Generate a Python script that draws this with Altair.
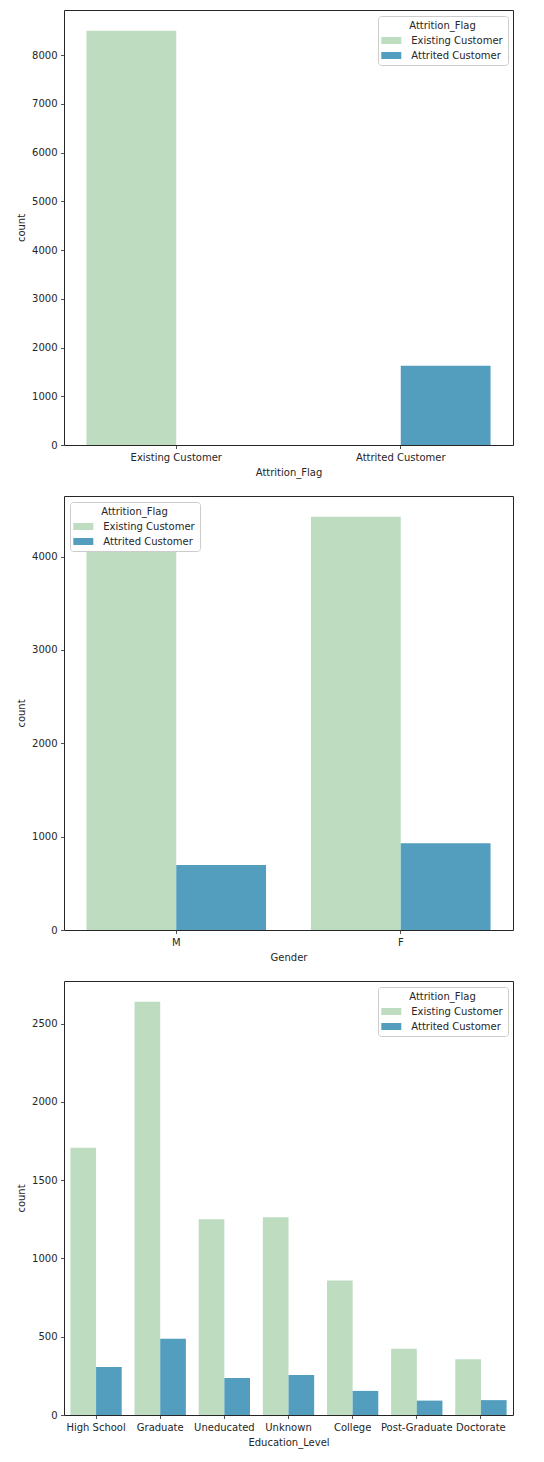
import altair as alt
import pandas as pd

flag_cats = ["Existing Customer", "Attrited Customer"]
flag_counts = [8500, 1627]

gender_cats = ["M", "F"]
gender_existing = [4072, 4428]
gender_attrited = [697, 930]

edu_cats = ["High School", "Graduate", "Uneducated", "Unknown", "College", "Post-Graduate", "Doctorate"]
edu_existing = [1707, 2641, 1250, 1263, 859, 424, 356]
edu_attrited = [306, 487, 237, 256, 154, 92, 95]

colors = ["#bddcc0", "#539ebe"]
FONT = "DejaVu Sans"
TXT = "#262626"

df1 = pd.DataFrame({"x": flag_cats, "Attrition_Flag": flag_cats, "count": flag_counts})

rows = []
for c, e, a in zip(gender_cats, gender_existing, gender_attrited):
    rows.append({"x": c, "Attrition_Flag": flag_cats[0], "count": e})
    rows.append({"x": c, "Attrition_Flag": flag_cats[1], "count": a})
df2 = pd.DataFrame(rows)

rows = []
for c, e, a in zip(edu_cats, edu_existing, edu_attrited):
    rows.append({"x": c, "Attrition_Flag": flag_cats[0], "count": e})
    rows.append({"x": c, "Attrition_Flag": flag_cats[1], "count": a})
df3 = pd.DataFrame(rows)


def panel(df, cats, xtitle, ymax, yticks, orient, h):
    return alt.Chart(df).mark_bar().encode(
        x=alt.X("x:N", sort=cats,
                scale=alt.Scale(domain=cats, paddingInner=0.2, paddingOuter=0.1),
                axis=alt.Axis(title=xtitle, labelAngle=0, labelOverlap=False)),
        xOffset=alt.XOffset("Attrition_Flag:N",
                            scale=alt.Scale(domain=flag_cats, paddingInner=0, paddingOuter=0)),
        y=alt.Y("count:Q", scale=alt.Scale(domain=[0, ymax], nice=False),
                axis=alt.Axis(values=yticks, title="count", format="d")),
        color=alt.Color("Attrition_Flag:N",
                        scale=alt.Scale(domain=flag_cats, range=colors),
                        legend=alt.Legend(orient=orient, title="Attrition_Flag")),
    ).properties(width=449, height=h)


p1 = panel(df1, flag_cats, "Attrition_Flag", 8925, list(range(0, 9000, 1000)), "top-right", 435)
p2 = panel(df2, gender_cats, "Gender", 4649, list(range(0, 5000, 1000)), "top-left", 434)
p3 = panel(df3, edu_cats, "Education_Level", 2773, list(range(0, 3000, 500)), "top-right", 434)

chart = alt.vconcat(p1, p2, p3, spacing=17).resolve_scale(
    x="independent", xOffset="independent", y="independent"
).resolve_legend(color="independent").properties(
    padding={"left": 8, "top": 1, "right": 5, "bottom": 5}
).configure_view(
    stroke=TXT, strokeWidth=1
).configure_axis(
    domain=False, grid=False, tickSize=3.5, tickColor=TXT, tickWidth=0.8,
    labelPadding=3.5, labelFont=FONT, labelFontSize=10, labelColor=TXT,
    titleFont=FONT, titleFontSize=10, titleFontWeight="normal", titleColor=TXT,
    titlePadding=5
).configure_legend(
    fillColor="white", strokeColor="#cccccc", cornerRadius=3, padding=4.5, offset=5.5,
    symbolType="M-2,-0.7H2V0.7H-2Z", symbolSize=100, symbolStrokeWidth=0, symbolOffset=3.8,
    labelFont=FONT, labelFontSize=10, labelColor=TXT, labelOffset=15,
    titleFont=FONT, titleFontSize=10, titleFontWeight="normal", titleColor=TXT,
    titleAnchor="middle", titlePadding=5, rowPadding=5
)

chart.save("out.html", embed_options={"renderer": "svg", "actions": False})
